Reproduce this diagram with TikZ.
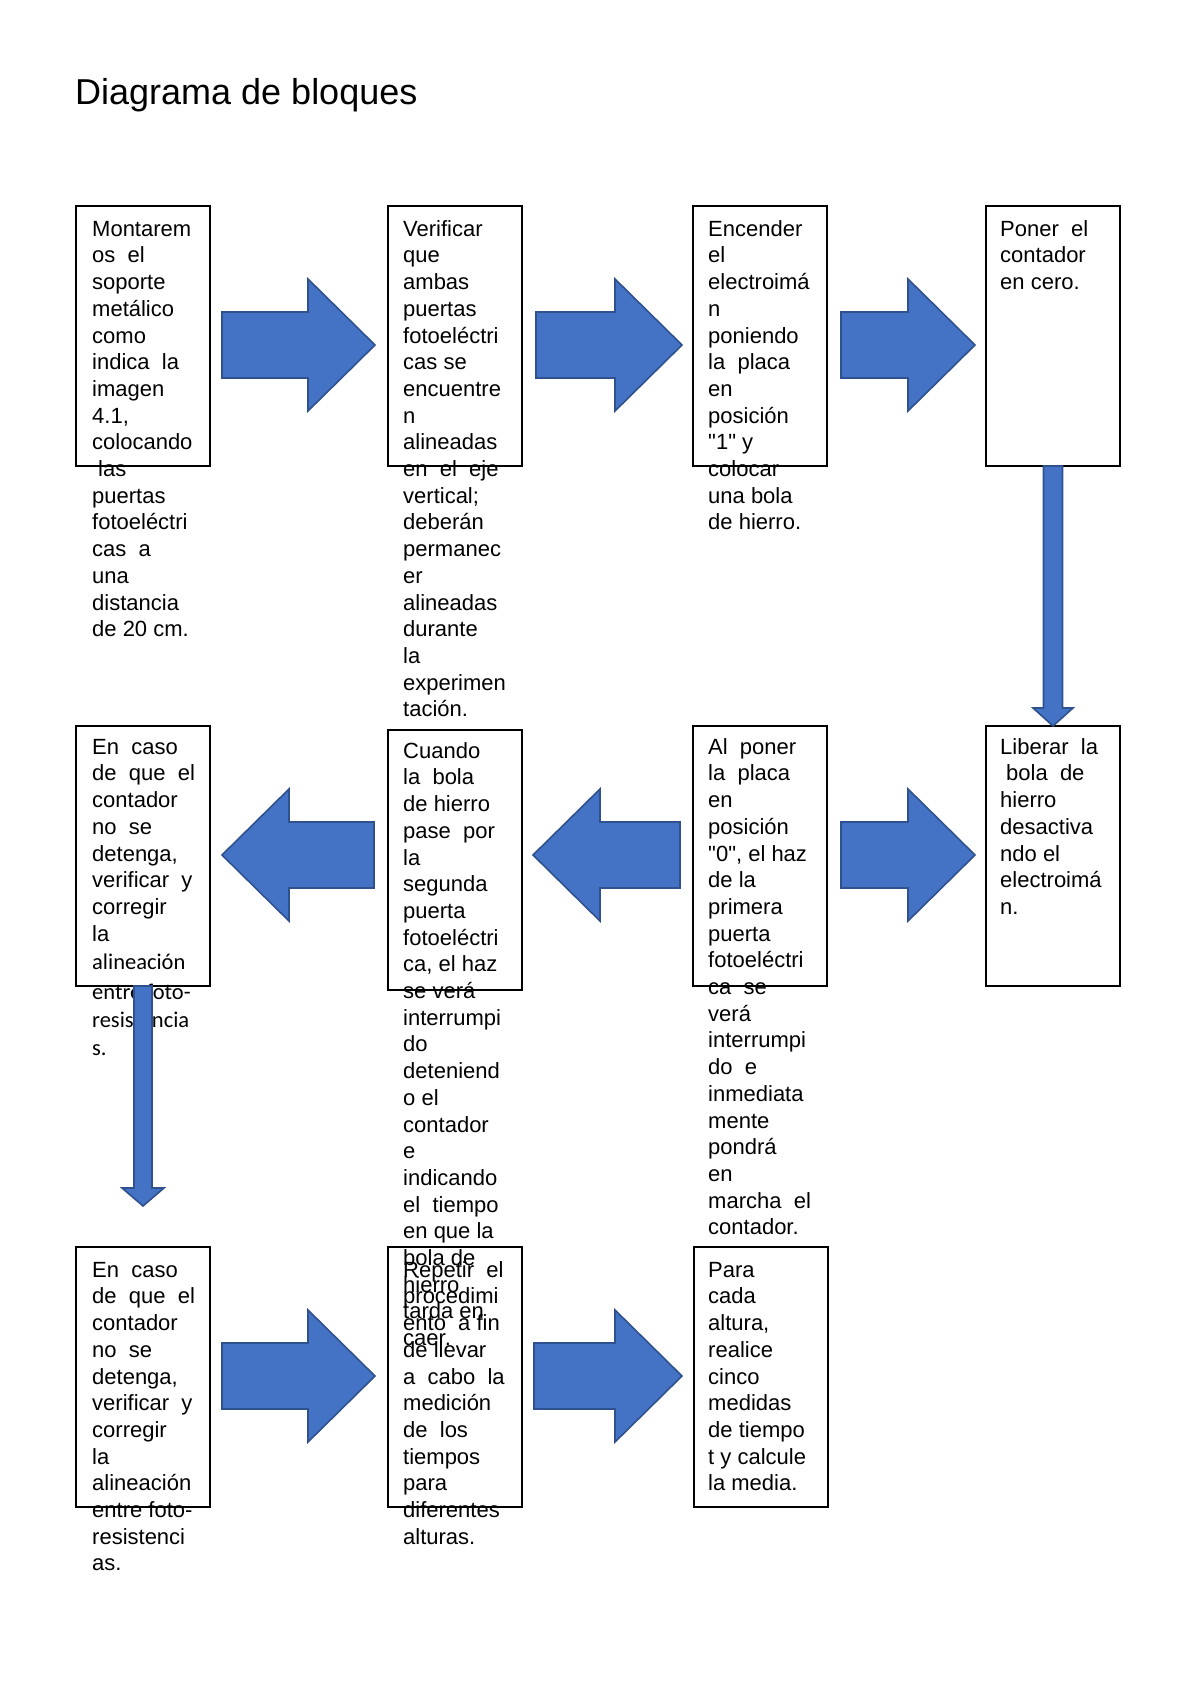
\documentclass[tikz,border=0pt]{standalone}
\usepackage{fontspec}
\setmainfont{Liberation Sans}[Ligatures=TeXOff]
\newfontfamily\carl{Carlito}[Ligatures=TeXOff]
\usetikzlibrary{calc}
\definecolor{arrfill}{HTML}{4472C4}
\definecolor{arrline}{HTML}{2F528F}
\newcommand\fl{\rule{0pt}{20pt}}
\newcommand\rblock[3]{\filldraw[blockarr] (#1,#3-33) -- (#2-67,#3-33) -- (#2-67,#3-66) -- (#2,#3) -- (#2-67,#3+66) -- (#2-67,#3+33) -- (#1,#3+33) -- cycle;}
\newcommand\lblock[3]{\filldraw[blockarr] (#2,#3-33) -- (#1+67,#3-33) -- (#1+67,#3-66) -- (#1,#3) -- (#1+67,#3+66) -- (#1+67,#3+33) -- (#2,#3+33) -- cycle;}
\newcommand\dblock[5]{\filldraw[blockarr] (#1-#4,#2) -- (#1+#4,#2) -- (#1+#4,#3-18) -- (#1+#5,#3-18) -- (#1,#3) -- (#1-#5,#3-18) -- (#1-#4,#3-18) -- cycle;}
\begin{document}
\begin{tikzpicture}[x=1pt,y=-1pt,
  box/.style={draw=black,line width=1.1pt,minimum width=134pt,minimum height=260pt,inner sep=0pt,outer sep=0pt},
  txt/.style={anchor=north west,inner sep=0pt,align=left,font=\fontsize{22pt}{26.7pt}\selectfont,text=black},
  blockarr/.style={fill=arrfill,draw=arrline,line width=1.6pt,line join=miter}]
\useasboundingbox (0,0) rectangle (1200,1696);
\node[anchor=base west,inner sep=0pt,font=\fontsize{36pt}{43pt}\selectfont] (title) at (75,105) {Diagrama de bloques};
% boxes
\node[box] (b1) at (143,336) {};
\node[box] (b2) at (455,336) {};
\node[box] (b3) at (760,336) {};
\node[box] (b4) at (1053,336) {};
\node[box] (b5) at (143,856) {};
\node[box] (b6) at (455,860) {};
\node[box] (b7) at (760,856) {};
\node[box] (b8) at (1053,856) {};
\node[box] (b9) at (143,1377) {};
\node[box] (b10) at (455,1377) {};
\node[box] (b11) at (761,1377) {};
% texts
\node[txt] (t1) at ($(b1.north west)+(16,10)$) {\fl Montarem\\os~~el\\soporte\\metálico\\como\\indica~~la\\imagen\\4.1,\\colocando\\\hspace*{6pt}las\\puertas\\fotoeléctri\\cas~~a\\una\\distancia\\de 20 cm.};
\node[txt] (t2) at ($(b2.north west)+(15,10)$) {\fl Verificar\\que\\ambas\\puertas\\fotoeléctri\\cas se\\encuentre\\n\\alineadas\\en~~el~~eje\\vertical;\\deberán\\permanec\\er\\alineadas\\durante\\la\\experimen\\tación.};
\node[txt] (t3) at ($(b3.north west)+(15,10)$) {\fl Encender\\el\\electroimá\\n\\poniendo\\la~~placa\\en\\posición\\"1" y\\colocar\\una bola\\de hierro.};
\node[txt] (t4) at ($(b4.north west)+(14,10)$) {\fl Poner~~el\\contador\\en cero.};
\node[txt] (t5) at ($(b5.north west)+(16,8)$) {\fl En~~caso\\de~~que~~el\\contador\\no~~se\\detenga,\\verificar~~y\\corregir\\la\\[1.5pt]{\carl\fontsize{22.5pt}{28pt}\selectfont alineación}\\[3pt]{\carl\fontsize{22.5pt}{28pt}\selectfont entre foto-}\\[1.5pt]{\carl\fontsize{22.5pt}{28pt}\selectfont resistencia}\\[1.5pt]{\carl\fontsize{22.5pt}{28pt}\selectfont s.}};
\node[txt] (t6) at ($(b6.north west)+(15,8)$) {\fl Cuando\\la~~bola\\de hierro\\pase~~por\\la\\segunda\\puerta\\fotoeléctri\\ca, el haz\\se verá\\interrumpi\\do\\deteniend\\o el\\contador\\e\\indicando\\el~~tiempo\\en que la\\bola de\\hierro\\tarda en\\caer.};
\node[txt] (t7) at ($(b7.north west)+(15,8)$) {\fl Al~~poner\\la~~placa\\en\\posición\\"0", el haz\\de la\\primera\\puerta\\fotoeléctri\\ca~~se\\verá\\interrumpi\\do~~e\\inmediata\\mente\\pondrá\\en\\marcha~~el\\contador.};
\node[txt] (t8) at ($(b8.north west)+(14,8)$) {\fl Liberar~~la\\\hspace*{6pt}bola~~de\\hierro\\desactiva\\ndo el\\electroimá\\n.};
\node[txt] (t9) at ($(b9.north west)+(16,10)$) {\fl En~~caso\\de~~que~~el\\contador\\no~~se\\detenga,\\verificar~~y\\corregir\\la\\alineación\\entre foto-\\resistenci\\as.};
\node[txt] (t10) at ($(b10.north west)+(15,10)$) {\fl Repetir~~el\\procedimi\\ento~~a fin\\de llevar\\a~~cabo~~la\\medición\\de~~los\\tiempos\\para\\diferentes\\alturas.};
\node[txt] (t11) at ($(b11.north west)+(14,10)$) {\fl Para\\cada\\altura,\\realice\\cinco\\medidas\\de tiempo\\t y calcule\\la media.};
% block arrows
\rblock{222}{375}{345}
\rblock{536}{682}{345}
\rblock{841}{975}{345}
\lblock{222}{374}{855}
\lblock{533}{680}{855}
\rblock{841}{975}{855}
\rblock{222}{375}{1376}
\rblock{534}{682}{1376}
\dblock{1053}{466}{726}{9.5}{20}
\dblock{143}{986}{1206}{9}{21}
\end{tikzpicture}
\end{document}
